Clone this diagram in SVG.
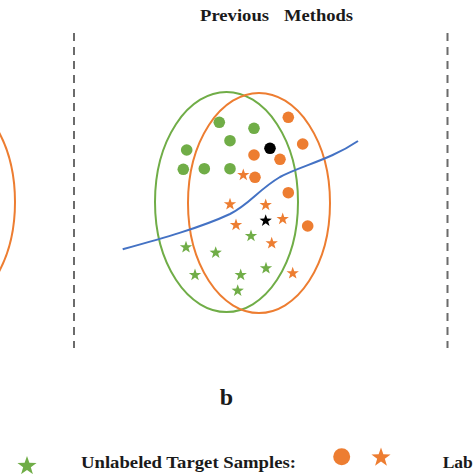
<svg xmlns="http://www.w3.org/2000/svg" width="474" height="474" viewBox="0 0 474 474">
<style>
.t{font-family:"Liberation Serif","Times New Roman",serif;font-weight:bold;fill:#1a1a1a}
.dash{stroke:#6b6b6b;stroke-width:2;stroke-dasharray:8 6;fill:none}
.eg{fill:none;stroke:#70AD47;stroke-width:2}
.eo{fill:none;stroke:#ED7D31;stroke-width:2}
.g{fill:#70AD47}
.o{fill:#ED7D31}
.k{fill:#000}
</style>
<defs>
<path id="star" d="M0,-6.5 L1.53,-2.1 L6.18,-2.01 L2.47,0.8 L3.82,5.26 L0,2.6 L-3.82,5.26 L-2.47,0.8 L-6.18,-2.01 L-1.53,-2.1 Z"/>
</defs>
<rect width="474" height="474" fill="#fff"/>
<text class="t" y="20.5" font-size="17.5"><tspan x="200" textLength="69" lengthAdjust="spacingAndGlyphs">Previous</tspan><tspan x="284" textLength="69" lengthAdjust="spacingAndGlyphs">Methods</tspan></text>
<line class="dash" x1="74" y1="33" x2="74" y2="348"/>
<line class="dash" x1="447.5" y1="33" x2="447.5" y2="348"/>
<ellipse id="prev-orange" class="eo" cx="-56" cy="202" rx="71" ry="110"/>
<g id="domains">
<ellipse id="source" class="eg" cx="226.5" cy="202" rx="71.5" ry="110"/>
<ellipse id="target" class="eo" cx="259" cy="203" rx="71" ry="110"/>
</g>
<g id="boundary">
<path d="M122.7,249.3 C160,239 200,228 230,214 C250,204 258,190 280,177 C300,166 330,160 358,141" fill="none" stroke="#4472C4" stroke-width="2"/>
</g>
<g id="green-circles" class="g">
<circle cx="219.3" cy="122.3" r="5.8"/>
<circle cx="254" cy="128.3" r="5.8"/>
<circle cx="230" cy="140.7" r="5.8"/>
<circle cx="186.7" cy="150" r="5.8"/>
<circle cx="183.3" cy="169.3" r="5.8"/>
<circle cx="204.3" cy="168.7" r="5.8"/>
<circle cx="230" cy="168.7" r="5.8"/>
</g>
<g id="orange-circles" class="o">
<circle cx="288.3" cy="117.3" r="5.8"/>
<circle cx="302.7" cy="144" r="5.8"/>
<circle cx="254" cy="155" r="5.8"/>
<circle cx="280" cy="159.3" r="5.8"/>
<circle cx="255" cy="177.3" r="5.8"/>
<circle cx="288.3" cy="192.7" r="5.8"/>
<circle cx="307.7" cy="226" r="5.8"/>
</g>
<circle id="black-circle" class="k" cx="270" cy="148.3" r="5.8"/>
<g id="orange-stars" class="o">
<use href="#star" x="243.3" y="175"/>
<use href="#star" x="230" y="204.3"/>
<use href="#star" x="265.7" y="205"/>
<use href="#star" x="282.7" y="219"/>
<use href="#star" x="236" y="225"/>
<use href="#star" x="271.7" y="243.3"/>
<use href="#star" x="292.7" y="273.3"/>
</g>
<use id="black-star" class="k" href="#star" x="265.7" y="220.7"/>
<g id="green-stars" class="g">
<use href="#star" x="251" y="236"/>
<use href="#star" x="186" y="247.3"/>
<use href="#star" x="215.7" y="252.7"/>
<use href="#star" x="195" y="275"/>
<use href="#star" x="240.7" y="275"/>
<use href="#star" x="266" y="268.3"/>
<use href="#star" x="237.7" y="290.7"/>
</g>
<text class="t" x="226.5" y="405" font-size="24" text-anchor="middle">b</text>
<g id="legend">
<use class="g" href="#star" transform="translate(27,466) scale(1.55)"/>
<text class="t" x="81" y="468" font-size="17.5" textLength="215" lengthAdjust="spacingAndGlyphs">Unlabeled Target Samples:</text>
<circle class="o" cx="341.7" cy="456.7" r="8.5"/>
<use class="o" href="#star" transform="translate(381,457.5) scale(1.55)"/>
<text class="t" x="442.7" y="468" font-size="17.5">Lab</text>
</g>
</svg>
